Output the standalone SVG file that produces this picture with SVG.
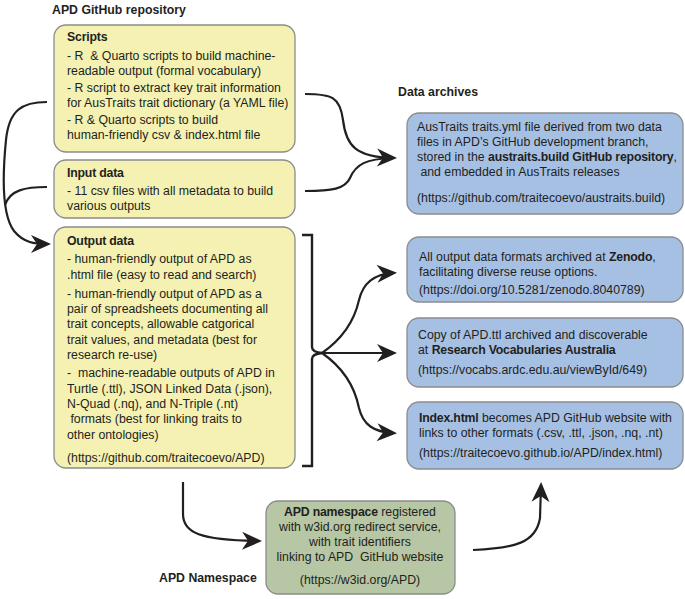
<svg xmlns="http://www.w3.org/2000/svg" width="685" height="599" viewBox="0 0 685 599">
<defs>
<style>
text{font-family:"Liberation Sans",Arial,sans-serif;font-size:12.3px;fill:#231f20}
.b{font-weight:bold;letter-spacing:-0.2px}
.h{font-weight:bold;font-size:12.3px}
.y{fill:#f4f1b3;stroke:#8c8c8c;stroke-width:1.3}
.bl{fill:#a6c0e4;stroke:#8c8c8c;stroke-width:1.3}
.g{fill:#b7c6a4;stroke:#8c8c8c;stroke-width:1.3}
.c{fill:none;stroke:#231f20;stroke-width:2.2}
.br{fill:none;stroke:#231f20;stroke-width:2.4}
</style>
<marker id="ah" viewBox="-18 -10 23 20" markerWidth="23" markerHeight="20" refX="0" refY="0" orient="auto" markerUnits="userSpaceOnUse">
<path d="M4,0 L-16,-9 L-10,0 L-16,9 Z" fill="#231f20"/>
</marker>
</defs>
<rect width="685" height="599" fill="#fff"/>
<text class="h" x="52" y="14">APD GitHub repository</text>
<text class="h" x="398" y="96">Data archives</text>
<text class="h" x="159" y="582">APD Namespace</text>

<g id="scripts">
<rect class="y" x="54" y="25" width="241" height="127" rx="12"/>
<text class="b" x="67" y="41">Scripts</text>
<text x="67" y="60">- R &#160;&amp; Quarto scripts to build machine-</text>
<text x="67" y="75">readable output (formal vocabulary)</text>
<text x="67" y="92">- R script to extract key trait information</text>
<text x="67" y="107">for AusTraits trait dictionary (a YAML file)</text>
<text x="67" y="124">- R &amp; Quarto scripts to build</text>
<text x="67" y="139">human-friendly csv &amp; index.html file</text>
</g>
<g id="input">
<rect class="y" x="54" y="160" width="241" height="58" rx="12"/>
<text class="b" x="67" y="177">Input data</text>
<text x="67" y="195">- 11 csv files with all metadata to build</text>
<text x="67" y="210">various outputs</text>
</g>
<g id="output">
<rect class="y" x="54" y="227" width="241" height="241" rx="12"/>
<text class="b" x="67" y="245">Output data</text>
<text x="67" y="263">- human-friendly output of APD as</text>
<text x="67" y="279">.html file (easy to read and search)</text>
<text x="67" y="298">- human-friendly output of APD as a</text>
<text x="67" y="313">pair of spreadsheets documenting all</text>
<text x="67" y="328">trait concepts, allowable catgorical</text>
<text x="67" y="344">trait values, and metadata (best for</text>
<text x="67" y="359">research re-use)</text>
<text x="67" y="377">- &#160;machine-readable outputs of APD in</text>
<text x="67" y="393">Turtle (.ttl), JSON Linked Data (.json),</text>
<text x="67" y="408">N-Quad (.nq), and N-Triple (.nt)</text>
<text x="67" y="423">&#160;formats (best for linking traits to</text>
<text x="67" y="439">other ontologies)</text>
<text x="67" y="462">(https://github.com/traitecoevo/APD)</text>
</g>
<g id="austraits">
<rect class="bl" x="407" y="113" width="276" height="101" rx="12"/>
<text x="417" y="131">AusTraits traits.yml file derived from two data</text>
<text x="417" y="146">files in APD’s GitHub development branch,</text>
<text x="417" y="161">stored in the <tspan class="b">austraits.build GitHub repository</tspan>,</text>
<text x="417" y="176">&#160;and embedded in AusTraits releases</text>
<text x="417" y="202">(https://github.com/traitecoevo/austraits.build)</text>
</g>
<g id="zenodo">
<rect class="bl" x="407" y="237" width="276" height="65" rx="12"/>
<text x="419" y="261">All output data formats archived at <tspan class="b">Zenodo</tspan>,</text>
<text x="419" y="276">facilitating diverse reuse options.</text>
<text x="419" y="294">(https://doi.org/10.5281/zenodo.8040789)</text>
</g>
<g id="rva">
<rect class="bl" x="407" y="318" width="276" height="69" rx="12"/>
<text x="418" y="339">Copy of APD.ttl archived and discoverable</text>
<text x="418" y="354">at <tspan class="b">Research Vocabularies Australia</tspan></text>
<text x="418" y="374">(https://vocabs.ardc.edu.au/viewById/649)</text>
</g>
<g id="index">
<rect class="bl" x="407" y="402" width="276" height="67" rx="12"/>
<text x="419" y="422"><tspan class="b">Index.html</tspan> becomes APD GitHub website with</text>
<text x="419" y="437">links to other formats (.csv, .ttl, .json, .nq, .nt)</text>
<text x="419" y="457">(https://traitecoevo.github.io/APD/index.html)</text>
</g>
<g id="namespace">
<rect class="g" x="266" y="501" width="189" height="93" rx="12"/>
<text x="360" y="516" text-anchor="middle"><tspan class="b">APD namespace</tspan> registered</text>
<text x="360" y="531" text-anchor="middle">with w3id.org redirect service,</text>
<text x="360" y="546" text-anchor="middle">with trait identifiers</text>
<text x="360" y="561" text-anchor="middle">linking to APD &#160;GitHub website</text>
<text x="360" y="584" text-anchor="middle">(https://w3id.org/APD)</text>
</g>

<g id="connectors">
<path class="br" d="M302,235 H312 V347 Q312,352 322,353 Q312,354 312,359 V466 H302"/>
<path class="c" d="M47,102 C22,102 9,110 6,140 C2,180 2,215 14,231 C24,243 35,244 47,244" marker-end="url(#ah)"/>
<path class="c" d="M47,187 C25,187 10,190 5,205"/>
<path class="c" d="M305,94 C332,94 340,97 343,120 C346,146 356,157 393,158" marker-end="url(#ah)"/>
<path class="c" d="M305,191 C332,191 345,189 350,178 C356,164 366,159 393,158"/>
<path class="c" d="M322,353 C345,337 355,318 359,300 C363,283 374,274 393,273" marker-end="url(#ah)"/>
<path class="c" d="M322,353 H393" marker-end="url(#ah)"/>
<path class="c" d="M322,353 C345,369 355,388 359,408 C363,425 374,432 393,433" marker-end="url(#ah)"/>
<path class="c" d="M183,482 V514 C183,533 200,540 258,541" marker-end="url(#ah)"/>
<path class="c" d="M473,550 C515,548 536,543 540,518 L541,486" marker-end="url(#ah)"/>
</g>
</svg>
